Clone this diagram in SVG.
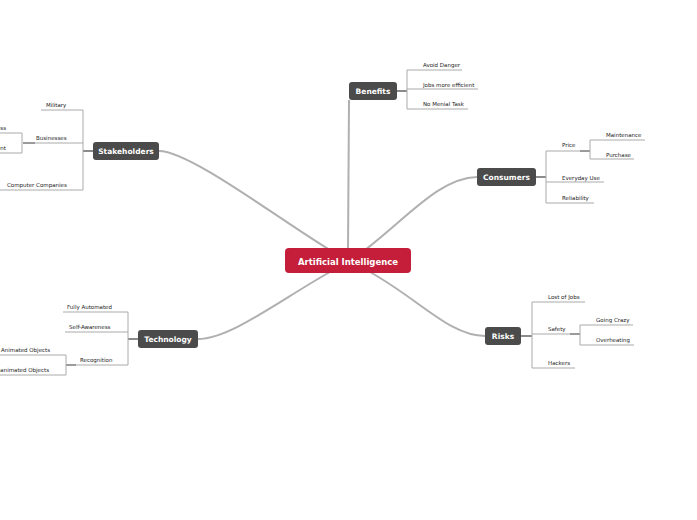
<svg xmlns="http://www.w3.org/2000/svg" width="697" height="520" viewBox="0 0 697 520">
<style>
.main rect{fill:#4b4b4b}
.main text{fill:#fff;font:bold 7.5px "DejaVu Sans",sans-serif;text-anchor:middle}
.t{font:5.5px "DejaVu Sans",sans-serif;fill:#222}
.l{stroke:#aaa;stroke-width:1;fill:none}
.c{stroke:#b0b0b0;stroke-width:2;fill:none}
.k{stroke:#666;stroke-width:1.5;fill:none}
</style>
<rect width="697" height="520" fill="#fff"/>
<g id="connectors">
<path class="c" d="M348,250 C348,200 349,150 349,100"/>
<path class="c" d="M365,250 C410,215 440,178 477,177"/>
<path class="c" d="M370,272 C420,300 450,336 485,336"/>
<path class="c" d="M330,272 C280,300 230,339 198,339"/>
<path class="c" d="M330,250 C280,220 190,151 159,151"/>
<path class="k" d="M397,91H407 M536,177H546 M590,151H580 M521,336H532 M580,334H570 M93,151H83 M23,143H35 M138,339H128 M66,365H76"/>
<path class="l" d="M407,70V109 M407,70H462 M407,89H478 M407,109H468"/>
<path class="l" d="M546,151V203 M546,151H590 M590,140V159 M590,140H645 M590,159H634 M546,182H604 M546,203H594"/>
<path class="l" d="M532,302V368 M532,302H585 M532,334H580 M580,325V345 M580,325H633 M580,345H634 M532,368H575"/>
<path class="l" d="M83,110V190 M41,110H83 M23,143H83 M22,133V153 M0,133H22 M0,153H22 M0,190H83"/>
<path class="l" d="M128,312V365 M63,312H128 M65,332H128 M66,365H128 M66,355V375 M0,355H66 M0,375H66"/>
</g>
<g id="center"><rect x="285" y="248" width="126" height="25" rx="4" fill="#c41e3a"/><text x="348" y="264.5" fill="#fff" text-anchor="middle" style="font:bold 8.5px 'DejaVu Sans',sans-serif">Artificial Intelligence</text></g>
<g id="benefits" class="main"><rect x="349" y="82" width="48" height="18" rx="3"/><text x="373" y="94">Benefits</text></g>
<g id="consumers" class="main"><rect x="477" y="168" width="59" height="18" rx="3"/><text x="506.5" y="180">Consumers</text></g>
<g id="risks" class="main"><rect x="485" y="327" width="36" height="18" rx="3"/><text x="503" y="339">Risks</text></g>
<g id="technology" class="main"><rect x="138" y="330" width="60" height="18" rx="3"/><text x="168" y="342">Technology</text></g>
<g id="stakeholders" class="main"><rect x="93" y="142" width="66" height="18" rx="3"/><text x="126" y="154">Stakeholders</text></g>
<g id="benefits-subs"><text class="t" x="423" y="67">Avoid Danger</text><text class="t" x="423" y="87">Jobs more efficient</text><text class="t" x="423" y="106">No Menial Task</text></g>
<g id="consumers-subs"><text class="t" x="562" y="147">Price</text><text class="t" x="606" y="137">Maintenance</text><text class="t" x="606" y="157">Purchase</text><text class="t" x="562" y="180">Everyday Use</text><text class="t" x="562" y="200">Reliability</text></g>
<g id="risks-subs"><text class="t" x="548" y="299">Lost of Jobs</text><text class="t" x="548" y="331">Safety</text><text class="t" x="596" y="322">Going Crazy</text><text class="t" x="596" y="342">Overheating</text><text class="t" x="548" y="365">Hackers</text></g>
<g id="stakeholders-subs"><text class="t" x="46" y="107">Military</text><text class="t" x="36" y="140">Businesses</text><text class="t" x="6" y="130" text-anchor="end">Small Business</text><text class="t" x="6" y="150" text-anchor="end">Government</text><text class="t" x="7" y="187">Computer Companies</text></g>
<g id="technology-subs"><text class="t" x="67" y="309">Fully Automated</text><text class="t" x="69" y="329">Self-Awareness</text><text class="t" x="80" y="362">Recognition</text><text class="t" x="1" y="352">Animated Objects</text><text class="t" x="49" y="372" text-anchor="end">Inanimated Objects</text></g>
</svg>
